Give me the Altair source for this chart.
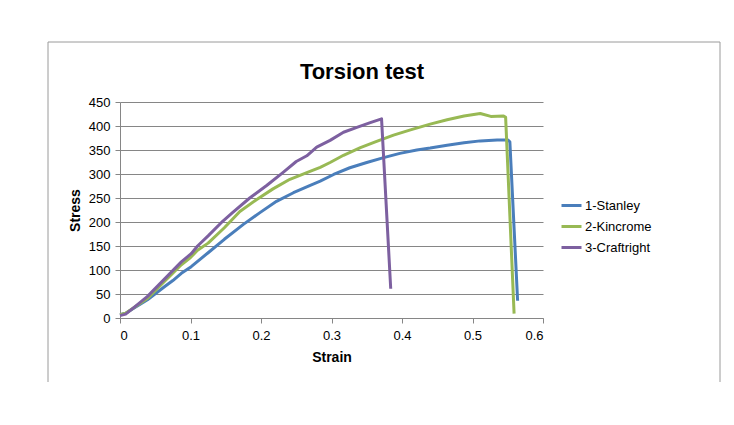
import altair as alt
import pandas as pd

series_names = ["1-Stanley", "2-Kincrome", "3-Craftright"]
colors = ["#4A7EBB", "#98B954", "#7D60A0"]

stanley_strain = [0, 0.008, 0.02, 0.039, 0.063, 0.075, 0.087, 0.101, 0.125, 0.148, 0.175, 0.198, 0.222,
                  0.246, 0.269, 0.284, 0.303, 0.326, 0.350, 0.374, 0.397, 0.421, 0.440, 0.464, 0.488,
                  0.511, 0.535, 0.550, 0.553, 0.564]
stanley_stress = [7, 10, 21, 38, 65, 78, 93, 107, 136, 164, 195, 219, 243,
                  261, 276, 285, 299, 313, 324, 334, 343, 350, 354, 360, 365,
                  369, 371, 371, 367, 36]

kincrome_strain = [0, 0.008, 0.02, 0.039, 0.063, 0.087, 0.100, 0.110, 0.125, 0.148, 0.170, 0.194, 0.217,
                   0.241, 0.265, 0.284, 0.298, 0.317, 0.341, 0.364, 0.388, 0.412, 0.440, 0.464, 0.488,
                   0.511, 0.526, 0.544, 0.547, 0.559]
kincrome_stress = [7, 10, 22, 41, 76, 111, 126, 141, 156, 188, 222, 247, 269,
                   289, 303, 314, 324, 339, 355, 368, 381, 392, 404, 413, 421,
                   426, 420, 421, 418, 9]

craftright_strain = [0, 0.008, 0.02, 0.039, 0.063, 0.087, 0.101, 0.110, 0.125, 0.146, 0.160, 0.184, 0.208,
                     0.231, 0.250, 0.265, 0.279, 0.298, 0.317, 0.336, 0.355, 0.371, 0.384]
craftright_stress = [5, 8, 22, 45, 81, 117, 134, 150, 171, 202, 220, 250, 276,
                     303, 326, 338, 356, 370, 387, 397, 407, 415, 61]

x_ticks = [0, 0.1, 0.2, 0.3, 0.4, 0.5, 0.6]
y_ticks = [0, 50, 100, 150, 200, 250, 300, 350, 400, 450]
chart_title = "Torsion test"

rows = []
for name, xs, ys in [(series_names[0], stanley_strain, stanley_stress),
                     (series_names[1], kincrome_strain, kincrome_stress),
                     (series_names[2], craftright_strain, craftright_stress)]:
    for i, (a, b) in enumerate(zip(xs, ys)):
        rows.append({"series": name, "Strain": a, "Stress": b, "idx": i})
df = pd.DataFrame(rows)

FONT = "Liberation Sans Narrow, Liberation Sans, Arial"

lines = alt.Chart(df).mark_line(strokeWidth=3, strokeJoin="round").encode(
    x=alt.X("Strain:Q", scale=alt.Scale(domain=[0, 0.6], nice=False),
            axis=alt.Axis(values=x_ticks, format=".1~f", grid=False, tickSize=5, labelPadding=6,
                          title="Strain", titleY=39, titleBaseline="middle")),
    y=alt.Y("Stress:Q", scale=alt.Scale(domain=[0, 450], nice=False),
            axis=alt.Axis(values=y_ticks, grid=True, tickSize=5, labelPadding=5,
                          title="Stress", titleX=-45, titleBaseline="middle")),
    color=alt.Color("series:N", scale=alt.Scale(domain=series_names, range=colors),
                    legend=alt.Legend(title=None, orient="none", legendX=440, legendY=92,
                                      symbolType="stroke", symbolSize=400, symbolStrokeWidth=3,
                                      rowPadding=2, labelOffset=2, padding=0,
                                      labelFontSize=13, labelFont=FONT, labelColor="#000")),
    order="idx:Q",
)

one = pd.DataFrame({"k": [0]})
top_border = alt.Chart(one).mark_rule(color="#9a9a9a", strokeWidth=1).encode(
    x=alt.value(-72), x2=alt.value(600), y=alt.value(-60))
left_border = alt.Chart(one).mark_rule(color="#9a9a9a", strokeWidth=1).encode(
    x=alt.value(-72), y=alt.value(-60), y2=alt.value(280))
right_border = alt.Chart(one).mark_rule(color="#9a9a9a", strokeWidth=1).encode(
    x=alt.value(600), y=alt.value(-60), y2=alt.value(280))
title_mark = alt.Chart(one).mark_text(font=FONT, fontSize=22, fontWeight="bold", color="#000",
                                      align="center", baseline="middle").encode(
    x=alt.value(242), y=alt.value(-30), text=alt.value(chart_title))

chart = alt.layer(top_border, left_border, right_border, title_mark, lines).properties(
    width=423, height=216,
    autosize=alt.AutoSizeParams(type="none"),
    padding={"left": 112, "top": 94, "right": 179, "bottom": 95},
).configure_view(stroke=None).configure_axis(
    domainColor="#868686", tickColor="#868686", gridColor="#868686",
    labelFont=FONT, labelFontSize=13, labelColor="#000",
    titleFont=FONT, titleFontSize=14, titleFontWeight="bold", titleColor="#000",
)

chart.save("out.html", embed_options={"renderer": "svg", "actions": False})
